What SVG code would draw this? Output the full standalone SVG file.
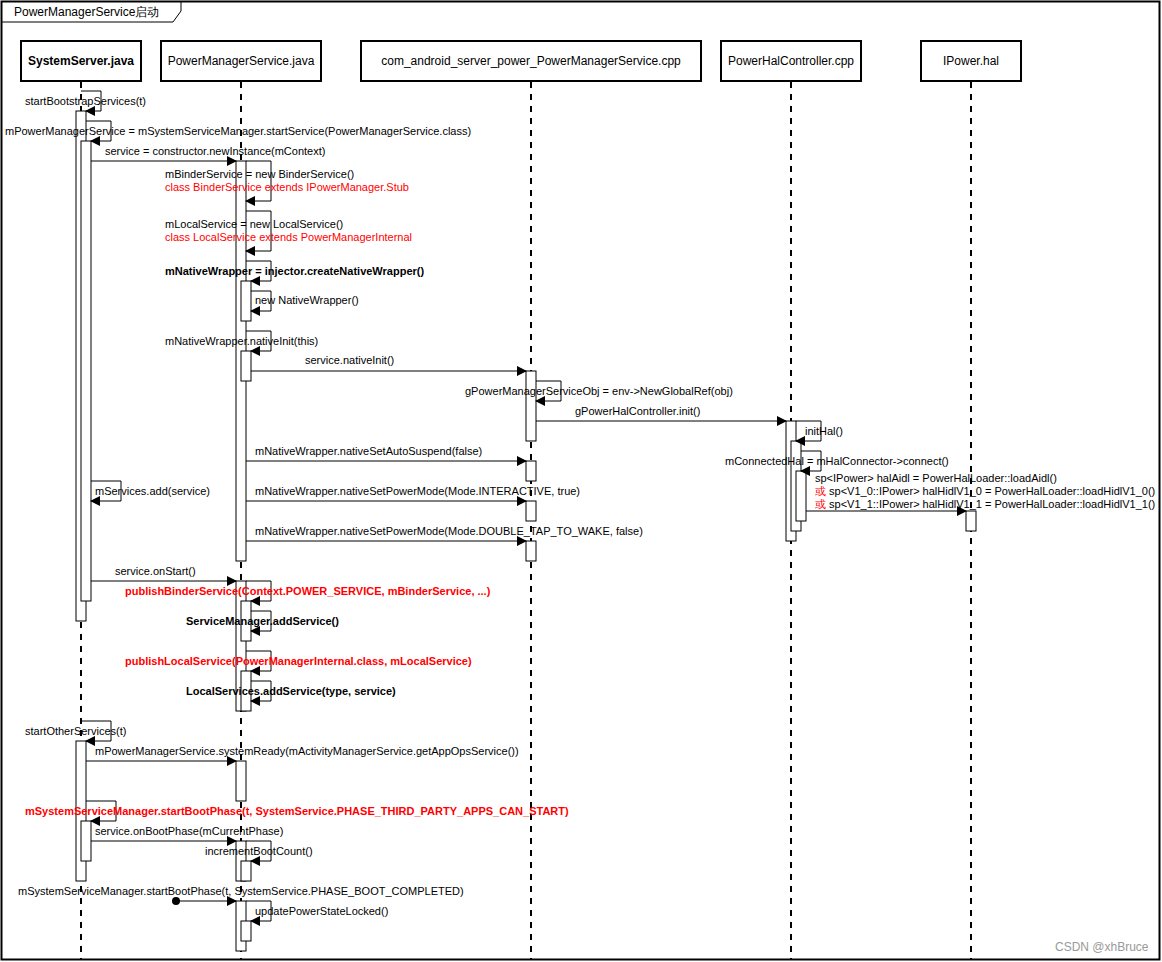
<svg xmlns="http://www.w3.org/2000/svg" width="1162" height="962" viewBox="0 0 1162 962">
<defs>
<marker id="ah" markerWidth="10" markerHeight="10" refX="9" refY="5" orient="auto" markerUnits="userSpaceOnUse"><path d="M0,0 L10,5 L0,10 Z" fill="#000"/></marker>
<style>
text{font-family:"Liberation Sans",Arial,sans-serif;font-size:11px;fill:#000}
.r{fill:#ff0000}.b{font-weight:bold}
.hd{font-size:12px}
.ll{stroke:#000;stroke-width:2;stroke-dasharray:6,6;fill:none}
.bar{fill:#fff;stroke:#000;stroke-width:1}
.box{fill:#fff;stroke:#000;stroke-width:2}
.m{stroke:#000;stroke-width:1;fill:none;marker-end:url(#ah)}
</style>
</defs>
<rect x="0" y="0" width="1162" height="962" fill="#fff"/>
<rect x="1.5" y="1.5" width="1158" height="958" fill="none" stroke="#000" stroke-width="2"/>
<path d="M1.5,22 L173,22 L181,11 L181,1.5" fill="none" stroke="#000" stroke-width="1"/>
<text x="14" y="16" class="hd">PowerManagerService启动</text>
<g id="lifelines">
<line class="ll" x1="81" y1="82" x2="81" y2="960"/>
<line class="ll" x1="241" y1="82" x2="241" y2="960"/>
<line class="ll" x1="531" y1="82" x2="531" y2="960"/>
<line class="ll" x1="791" y1="82" x2="791" y2="960"/>
<line class="ll" x1="971" y1="82" x2="971" y2="960"/>
</g>
<g id="n-systemserver"><rect class="box" x="21" y="41" width="120" height="40"/><text x="81" y="65" text-anchor="middle" class="hd b">SystemServer.java</text></g>
<g id="n-pms"><rect class="box" x="161" y="41" width="160" height="40"/><text x="241" y="65" text-anchor="middle" class="hd">PowerManagerService.java</text></g>
<g id="n-cpp"><rect class="box" x="361" y="41" width="340" height="40"/><text x="531" y="65" text-anchor="middle" class="hd">com_android_server_power_PowerManagerService.cpp</text></g>
<g id="n-phc"><rect class="box" x="721" y="41" width="140" height="40"/><text x="791" y="65" text-anchor="middle" class="hd">PowerHalController.cpp</text></g>
<g id="n-ipower"><rect class="box" x="921" y="41" width="100" height="40"/><text x="971" y="65" text-anchor="middle" class="hd">IPower.hal</text></g>
<g id="activations">
<rect class="bar" x="76" y="111" width="10" height="510"/>
<rect class="bar" x="81" y="141" width="10" height="460"/>
<rect class="bar" x="236" y="161" width="10" height="400"/>
<rect class="bar" x="241" y="281" width="10" height="40"/>
<rect class="bar" x="241" y="351" width="10" height="30"/>
<rect class="bar" x="526" y="371" width="10" height="70"/>
<rect class="bar" x="786" y="421" width="10" height="120"/>
<rect class="bar" x="791" y="441" width="10" height="90"/>
<rect class="bar" x="796" y="471" width="10" height="50"/>
<rect class="bar" x="966" y="511" width="10" height="20"/>
<rect class="bar" x="526" y="461" width="10" height="20"/>
<rect class="bar" x="526" y="501" width="10" height="20"/>
<rect class="bar" x="526" y="541" width="10" height="20"/>
<rect class="bar" x="236" y="581" width="10" height="130"/>
<rect class="bar" x="241" y="601" width="10" height="40"/>
<rect class="bar" x="241" y="671" width="10" height="40"/>
<rect class="bar" x="76" y="741" width="10" height="140"/>
<rect class="bar" x="81" y="821" width="10" height="40"/>
<rect class="bar" x="236" y="761" width="10" height="40"/>
<rect class="bar" x="236" y="841" width="10" height="40"/>
<rect class="bar" x="241" y="861" width="10" height="20"/>
<rect class="bar" x="236" y="901" width="10" height="50"/>
<rect class="bar" x="241" y="921" width="10" height="20"/>
</g>
<g id="connectors">
<path class="m" d="M81,91 H101 V111 H86"/>
<path class="m" d="M86,121 H111 V141 H91"/>
<path class="m" d="M91,161 H236"/>
<path class="m" d="M246,161 H271 V201 H246"/>
<path class="m" d="M246,211 H271 V251 H246"/>
<path class="m" d="M246,261 H271 V281 H251"/>
<path class="m" d="M251,291 H271 V311 H251"/>
<path class="m" d="M246,331 H271 V351 H251"/>
<path class="m" d="M251,371 H526"/>
<path class="m" d="M536,381 H561 V401 H536"/>
<path class="m" d="M536,421 H786"/>
<path class="m" d="M796,421 H821 V441 H796"/>
<path class="m" d="M801,451 H821 V471 H801"/>
<path class="m" d="M806,511 H966"/>
<path class="m" d="M246,461 H526"/>
<path class="m" d="M91,481 H121 V501 H91"/>
<path class="m" d="M246,501 H526"/>
<path class="m" d="M246,541 H526"/>
<path class="m" d="M91,581 H236"/>
<path class="m" d="M246,581 H271 V601 H251"/>
<path class="m" d="M251,611 H271 V631 H251"/>
<path class="m" d="M246,651 H271 V671 H251"/>
<path class="m" d="M251,681 H271 V701 H251"/>
<path class="m" d="M81,721 H111 V741 H86"/>
<path class="m" d="M86,761 H236"/>
<path class="m" d="M86,801 H116 V821 H91"/>
<path class="m" d="M91,841 H236"/>
<path class="m" d="M246,841 H271 V861 H251"/>
<circle cx="176" cy="901" r="4" fill="#000"/>
<path class="m" d="M176,901 H236"/>
<path class="m" d="M246,901 H271 V921 H251"/>
</g>
<g id="labels">
<text x="25" y="105">startBootstrapServices(t)</text>
<text x="5" y="135">mPowerManagerService = mSystemServiceManager.startService(PowerManagerService.class)</text>
<text x="105" y="155">service = constructor.newInstance(mContext)</text>
<text x="165" y="178">mBinderService = new BinderService()</text>
<text x="165" y="191" class="r">class BinderService extends IPowerManager.Stub</text>
<text x="165" y="228">mLocalService = new LocalService()</text>
<text x="165" y="241" class="r">class LocalService extends PowerManagerInternal</text>
<text x="165" y="275" class="b">mNativeWrapper = injector.createNativeWrapper()</text>
<text x="255" y="304">new NativeWrapper()</text>
<text x="165" y="345">mNativeWrapper.nativeInit(this)</text>
<text x="305" y="364">service.nativeInit()</text>
<text x="465" y="395">gPowerManagerServiceObj = env-&gt;NewGlobalRef(obj)</text>
<text x="575" y="415">gPowerHalController.init()</text>
<text x="805" y="435">initHal()</text>
<text x="725" y="465">mConnectedHal = mHalConnector-&gt;connect()</text>
<text x="815" y="482">sp&lt;IPower&gt; halAidl = PowerHalLoader::loadAidl()</text>
<text x="815" y="495"><tspan class="r">或</tspan> sp&lt;V1_0::IPower&gt; halHidlV1_0 = PowerHalLoader::loadHidlV1_0()</text>
<text x="815" y="508"><tspan class="r">或</tspan> sp&lt;V1_1::IPower&gt; halHidlV1_1 = PowerHalLoader::loadHidlV1_1()</text>
<text x="255" y="455">mNativeWrapper.nativeSetAutoSuspend(false)</text>
<text x="95" y="495">mServices.add(service)</text>
<text x="255" y="495">mNativeWrapper.nativeSetPowerMode(Mode.INTERACTIVE, true)</text>
<text x="255" y="535">mNativeWrapper.nativeSetPowerMode(Mode.DOUBLE_TAP_TO_WAKE, false)</text>
<text x="115" y="575">service.onStart()</text>
<text x="125" y="595" class="r b">publishBinderService(Context.POWER_SERVICE, mBinderService, ...)</text>
<text x="186" y="625" class="b">ServiceManager.addService()</text>
<text x="125" y="665" class="r b">publishLocalService(PowerManagerInternal.class, mLocalService)</text>
<text x="186" y="695" class="b">LocalServices.addService(type, service)</text>
<text x="25" y="735">startOtherServices(t)</text>
<text x="95" y="755">mPowerManagerService.systemReady(mActivityManagerService.getAppOpsService())</text>
<text x="25" y="815" class="r b">mSystemServiceManager.startBootPhase(t, SystemService.PHASE_THIRD_PARTY_APPS_CAN_START)</text>
<text x="95" y="835">service.onBootPhase(mCurrentPhase)</text>
<text x="205" y="855">incrementBootCount()</text>
<text x="18" y="895">mSystemServiceManager.startBootPhase(t, SystemService.PHASE_BOOT_COMPLETED)</text>
<text x="255" y="915">updatePowerStateLocked()</text>
<text x="1055" y="951" style="fill:#999;font-size:12px">CSDN @xhBruce</text>
</g>
</svg>
